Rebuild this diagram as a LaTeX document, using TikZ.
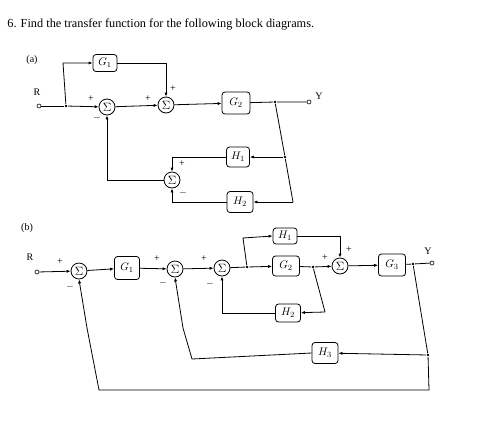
\documentclass[tikz,border=0pt]{standalone}
\usepackage{fontspec}
\setmainfont{Liberation Serif}
\usetikzlibrary{arrows.meta}
\begin{document}
\begin{tikzpicture}[x=1pt,y=-1pt,
  line width=0.8pt,
  blk/.style={draw,rounded corners=3pt,inner sep=1pt,font=\fontsize{11}{11}\selectfont},
  sm/.style={draw,circle,minimum size=16pt,inner sep=0pt,font=\fontsize{12}{12}\selectfont},
  dot/.style={circle,fill,inner sep=0pt,minimum size=2.8pt},
  term/.style={circle,draw,fill=white,inner sep=0pt,minimum size=4pt,line width=0.6pt},
  sgn/.style={inner sep=0pt,font=\fontsize{10}{10}\selectfont},
  lbl/.style={inner sep=0pt,font=\fontsize{10}{10}\selectfont},
  arr/.style={-{Latex[length=4pt,width=3.2pt]}}]
\useasboundingbox (0,0) rectangle (478,445);
\node[anchor=base west,inner sep=0pt,font=\fontsize{12.3}{12.3}\selectfont] (title) at (7,27) {6. Find the transfer function for the following block diagrams.};

% ---------- (a) ----------
\node[lbl] (la) at (32,60) {(a)};
\node[lbl] (Ra) at (37,92) {R};
\node[lbl] (Yla) at (319,96) {Y};
\node[term] (ina) at (39,106) {};
\node[dot] (ba1) at (66,106) {};
\coordinate (ca0) at (63,63);
\node[blk,minimum width=24pt,minimum height=17pt] (G1a) at (105,63) {$G_1$};
\node[sm] (S1a) at (107,107) {$\Sigma$};
\node[sm] (S2a) at (166,105) {$\Sigma$};
\node[blk,minimum width=28pt,minimum height=22pt] (G2a) at (236,103) {$G_2$};
\node[dot] (ba2) at (275,102) {};
\node[term] (outa) at (309,102) {};
\node[dot] (ba3) at (285,157) {};
\coordinate (ca1) at (293,202);
\node[blk,minimum width=23pt,minimum height=20pt] (H1a) at (238,157) {$H_1$};
\node[blk,minimum width=26pt,minimum height=21pt] (H2a) at (240,202) {$H_2$};
\node[sm] (S3a) at (172,180) {$\Sigma$};

\draw (ina) -- (ba1);
\draw[arr] (ba1) -- (S1a);
\draw[arr] (ba1) -- (ca0) -- (G1a);
\draw[arr] (G1a.east) -| (S2a.north);
\draw[arr] (S1a) -- (S2a);
\draw[arr] (S2a) -- (G2a);
\draw (G2a) -- (ba2) -- (outa);
\draw (ba2) -- (ba3);
\draw[arr] (ba3) -- (H1a);
\draw (ba3) -- (ca1);
\draw[arr] (ca1) -- (H2a);
\draw[arr] (H1a.west) -| (S3a.north);
\draw[arr] (H2a.west) -| (S3a.south);
\draw[arr] (S3a.west) -| (S1a.south);

\node[sgn] (pa1) at (91,99) {+};
\node[sgn] (ma1) at (97,118) {$-$};
\node[sgn] (pa2) at (148,99) {+};
\node[sgn] (pa3) at (173,89) {+};
\node[sgn] (pa4) at (182,164) {+};
\node[sgn] (ma2) at (183,193) {$-$};

% ---------- (b) ----------
\node[lbl] (lb) at (27,228) {(b)};
\node[lbl] (Rb) at (30,257) {R};
\node[lbl] (Ylb) at (428,251) {Y};
\node[term] (inb) at (37,272) {};
\node[sm] (S1b) at (79,271) {$\Sigma$};
\node[blk,minimum width=25pt,minimum height=23pt] (G1b) at (127,268) {$G_1$};
\node[sm] (S2b) at (175,269) {$\Sigma$};
\node[sm] (S3b) at (222,268) {$\Sigma$};
\node[dot] (bb1) at (247,267) {};
\coordinate (cb1) at (243,238);
\node[blk,minimum width=24pt,minimum height=16pt] (H1b) at (285,236) {$H_1$};
\node[blk,minimum width=27pt,minimum height=20pt] (G2b) at (286,266) {$G_2$};
\node[dot] (bb2) at (313,267) {};
\coordinate (cb2) at (325,312);
\node[blk,minimum width=25pt,minimum height=18pt] (H2b) at (288,313) {$H_2$};
\node[sm] (S4b) at (340,266) {$\Sigma$};
\node[blk,minimum width=27pt,minimum height=22pt] (G3b) at (392,265) {$G_3$};
\node[dot] (bb3) at (413,264) {};
\node[term] (outb) at (432,263) {};
\node[dot] (bb4) at (428,355) {};
\node[blk,minimum width=26pt,minimum height=21pt] (H3b) at (325,353) {$H_3$};
\coordinate (cb3) at (429,390);
\coordinate (cb4) at (99,390);
\coordinate (cb6) at (87,328);
\coordinate (cb5) at (192,359);
\coordinate (cb7) at (183,328);

\draw[arr] (inb) -- (S1b);
\draw[arr] (S1b) -- (G1b);
\draw[arr] (G1b) -- (S2b);
\draw[arr] (S2b) -- (S3b);
\draw (S3b) -- (bb1);
\draw[arr] (bb1) -- (G2b);
\draw[arr] (bb1) -- (cb1) -- (H1b.west);
\draw[arr] (H1b.east) -| (S4b.north);
\draw (G2b) -- (bb2);
\draw[arr] (bb2) -- (S4b);
\draw (bb2) -- (cb2);
\draw[arr] (cb2) -- (H2b);
\draw[arr] (H2b.west) -| (S3b.south);
\draw[arr] (S4b) -- (G3b);
\draw (G3b) -- (bb3) -- (outb);
\draw (bb3) -- (bb4);
\draw[arr] (bb4) -- (H3b);
\draw (H3b.west) -- (cb5) -- (cb7);
\draw[arr] (cb7) -- (S2b.south);
\draw (bb4) -- (cb3) -- (cb4) -- (cb6);
\draw[arr] (cb6) -- (S1b.south);

\node[sgn] (pb1) at (60,262) {+};
\node[sgn] (mb1) at (70,287) {$-$};
\node[sgn] (pb2) at (157,259) {+};
\node[sgn] (mb2) at (163,283) {$-$};
\node[sgn] (pb3) at (204,259) {+};
\node[sgn] (mb3) at (210,284) {$-$};
\node[sgn] (pb4) at (325,258) {+};
\node[sgn] (pb5) at (349,250) {+};
\end{tikzpicture}
\end{document}
